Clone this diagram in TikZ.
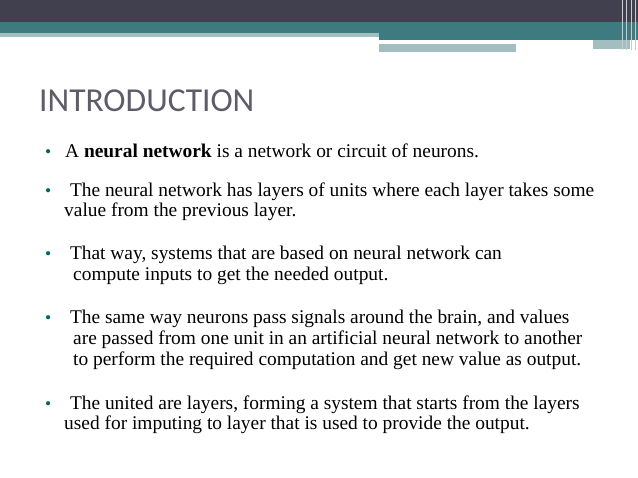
\documentclass[tikz,border=0pt]{standalone}
\usepackage{fontspec}
\setmainfont{Liberation Serif}
\newfontfamily\titlefont{Carlito}
\begin{document}
\begin{tikzpicture}[x=1pt,y=-1pt,
  txt/.style={anchor=base west,inner sep=0pt,font=\fontsize{19.4}{20}\selectfont},
  dot/.style={anchor=base west,inner sep=0pt,text=teal!70!cyan!60!black,font=\fontsize{17.5}{20}\selectfont}]
\definecolor{darkbar}{HTML}{40404F}
\definecolor{tealbar}{HTML}{3E7B80}
\definecolor{lightbar}{HTML}{A3BEC0}
\useasboundingbox[fill=white] (0,0) rectangle (638,478);
\fill[darkbar] (0,0) rectangle (638,22);
\fill[tealbar] (0,22) rectangle (638,33);
\fill[tealbar] (379,33) rectangle (638,40);
\fill[lightbar] (0,33) rectangle (379,37);
\fill[lightbar] (593,40) rectangle (630,49);
\fill[lightbar] (379,44) rectangle (516,52);
\foreach \x in {622,626,631,635} \draw[white!60!gray,line width=0.6] (\x,0) -- (\x,50);
\node[anchor=base west,inner sep=0pt,text=darkbar!85,font=\titlefont\fontsize{33.5}{34}\selectfont] (title) at (39,112) {INTRODUCTION};
\foreach \y/\n in {158/b1,197/b2,260/b3,324/b4,410/b5} \node[dot] (\n) at (45,\y) {•};
\node[txt] (t1) at (65,158) {A \textbf{neural network} is a network or circuit of neurons.};
\node[txt] (t2) at (65,197) {\ The neural network has layers of units where each layer takes some};
\node[txt] (t2b) at (64,217) {value from the previous layer.};
\node[txt] (t3) at (65,260) {\ That way, systems that are based on neural network can};
\node[txt] (t3b) at (73,281) {compute inputs to get the needed output.};
\node[txt] (t4) at (65,324) {\ The same way neurons pass signals around the brain, and values};
\node[txt] (t4b) at (73,345) {are passed from one unit in an artificial neural network to another};
\node[txt] (t4c) at (73,366) {to perform the required computation and get new value as output.};
\node[txt] (t5) at (65,410) {\ The united are layers, forming a system that starts from the layers};
\node[txt] (t5b) at (64,430) {used for imputing to layer that is used to provide the output.};
\end{tikzpicture}
\end{document}
